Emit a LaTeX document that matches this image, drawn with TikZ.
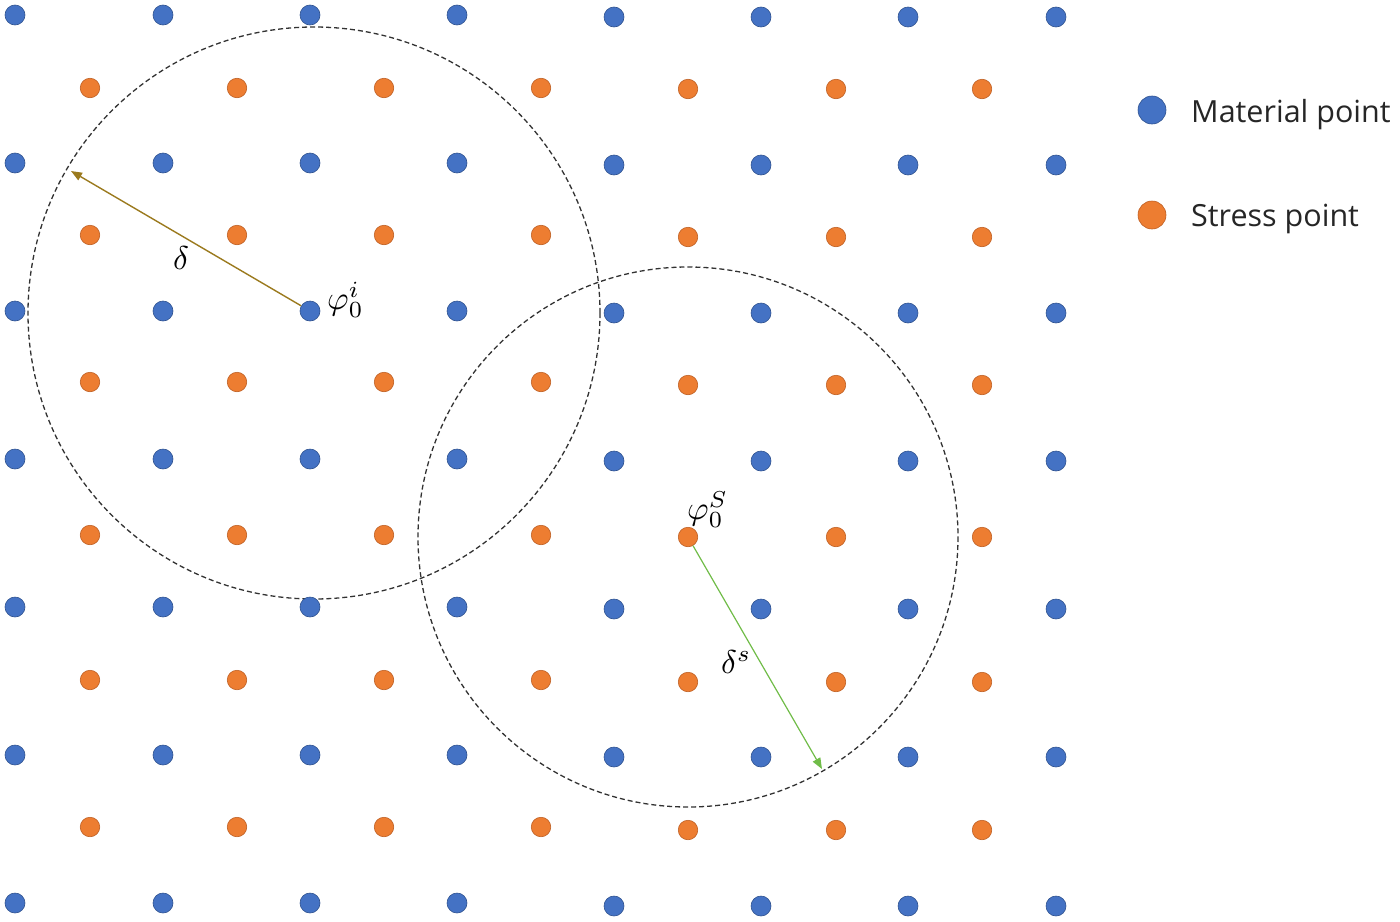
\documentclass[tikz,border=0pt]{standalone}
\usepackage{fontspec}
\newfontfamily\legendfont{Open Sans}
\usetikzlibrary{arrows.meta}
\definecolor{mblue}{RGB}{68,114,196}
\definecolor{mblueline}{RGB}{47,82,143}
\definecolor{sorange}{RGB}{237,125,49}
\definecolor{sorangeline}{RGB}{190,95,35}
\definecolor{arrbrown}{RGB}{155,122,30}
\definecolor{arrgreen}{RGB}{112,188,72}
\definecolor{circgray}{RGB}{50,50,50}
\newcommand{\bigmath}[1]{\scalebox{3.3}{$#1$}}
\tikzset{
  bdot/.style={circle,fill=mblue,draw=mblueline,line width=0.6pt,inner sep=0pt,minimum size=20pt},
  odot/.style={circle,fill=sorange,draw=sorangeline,line width=0.6pt,inner sep=0pt,minimum size=19.5pt},
  horizon/.style={draw=circgray,line width=1.3pt,dash pattern=on 5pt off 3pt},
  radarrow/.style={line width=1.4pt,-{Triangle[length=11pt,width=8.5pt]}},
  mathlbl/.style={inner sep=0pt},
  legendtext/.style={inner sep=0pt,anchor=base west,font=\legendfont\fontsize{30.5}{36}\selectfont,text=black!85}
}
\begin{document}
\begin{tikzpicture}[x=1pt,y=-1pt]
\useasboundingbox (0,0) rectangle (1400,921);
% horizons
\draw[horizon] (314,313) circle[radius=286];
\draw[horizon] (688,537) circle[radius=270];
% material points
\foreach \x [count=\i] in {15,163,310,457}
  \foreach \y [count=\j] in {15,163,311,459,607,755,903}
    \node[bdot] (b-\i-\j) at (\x,\y) {};
\foreach \x [count=\i from 5] in {614,761,908,1056}
  \foreach \y [count=\j] in {17,165,313,461,609,757,906}
    \node[bdot] (b-\i-\j) at (\x,\y) {};
% stress points
\foreach \x [count=\i] in {90,237,384,541}
  \foreach \y [count=\j] in {88,235,382,535,680,827}
    \node[odot] (o-\i-\j) at (\x,\y) {};
\foreach \x [count=\i from 5] in {688,836,982}
  \foreach \y [count=\j] in {89,237,385,537,682,830}
    \node[odot] (o-\i-\j) at (\x,\y) {};
% radii
\coordinate (tip1) at (71,171);
\coordinate (tip2) at (822,769);
\draw[radarrow,arrbrown] (b-3-3) -- (tip1);
\draw[radarrow,arrgreen,line width=1.2pt] (o-5-4) -- (tip2);
% labels
\node[mathlbl,anchor=base] (lbl-delta) at (181,269) {\bigmath{\delta}};
\node[mathlbl,anchor=base west] (lbl-phii) at (327,309) {\bigmath{\varphi_0^i}};
\node[mathlbl,anchor=base west] (lbl-phis) at (687,519) {\bigmath{\varphi_0^S}};
\node[mathlbl,anchor=base west] (lbl-deltas) at (721,673) {\bigmath{\delta^s}};
% legend
\node[bdot,minimum size=28pt] (leg-b) at (1152,110) {};
\node[odot,minimum size=28pt] (leg-o) at (1152,215) {};
\node[legendtext] (leg-bt) at (1191,122) {Material point};
\node[legendtext] (leg-ot) at (1191,226) {Stress point};
\end{tikzpicture}
\end{document}
